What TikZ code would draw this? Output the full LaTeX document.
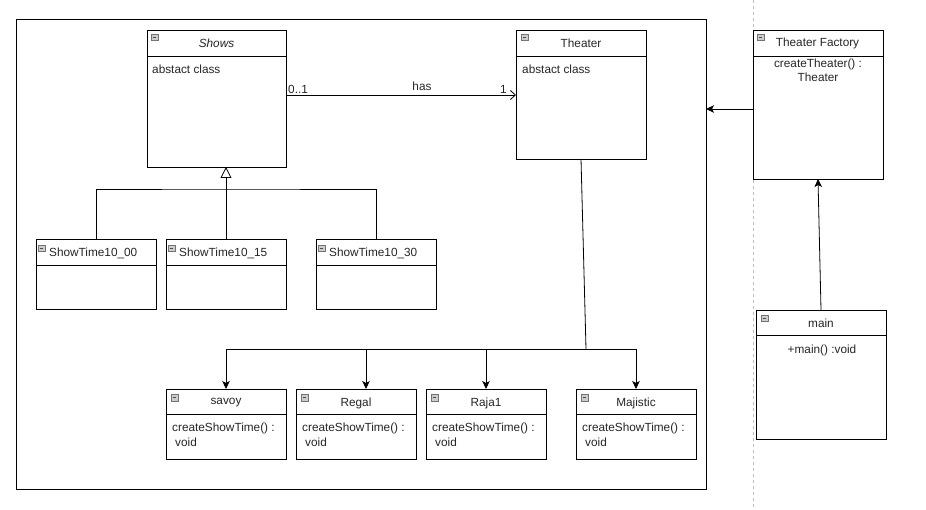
\documentclass[tikz,border=0pt]{standalone}
\usepackage{fontspec}
\setmainfont{Liberation Sans}
\usetikzlibrary{arrows.meta,calc}
\begin{document}
\begin{tikzpicture}[x=1pt,y=-1pt,
  box/.style={draw, line width=0.8pt, anchor=north west, inner sep=0pt, outer sep=0pt},
  lbl/.style={font=\fontsize{11.8}{14}\selectfont, inner sep=0pt, text=black!85},
  icon/.style={draw=black!55, fill=black!20, line width=0.4pt, minimum size=6.5pt, inner sep=0pt, anchor=north west,
    path picture={\draw[line width=0.6pt, black!70] ([xshift=1.3pt]path picture bounding box.west) -- ([xshift=-1.3pt]path picture bounding box.east);}},
  hline/.style={line width=0.8pt},
  conn/.style={line width=0.8pt},
  arr/.style={line width=0.8pt, -{Stealth[length=8pt,width=7.5pt,inset=2pt]}},
]
\useasboundingbox[fill=white] (0,0) rectangle (926,510);
% dashed separator
\draw[gray!50, dashed, line width=0.6pt] (753,0) -- (753,510);
% frame
\node[box, minimum width=690pt, minimum height=470pt] (frame) at (16,19) {};

% Shows
\node[box, fill=white, minimum width=139pt, minimum height=137pt] (shows) at (147,30) {};
\draw[hline] (147,56) -- (286,56);
\node[icon] (showsi) at (151,34) {};
\node[lbl, font=\fontsize{11.8}{14}\selectfont\itshape] (showst) at (216.5,43) {Shows};
\node[lbl, anchor=west] (showsb) at (152,69) {abstact class};

% Theater
\node[box, fill=white, minimum width=130pt, minimum height=129pt] (theater) at (516,30) {};
\draw[hline] (516,56) -- (646,56);
\node[icon] (theateri) at (521,34) {};
\node[lbl] (theatert) at (581,43) {Theater};
\node[lbl, anchor=west] (theaterb) at (522,69) {abstact class};

% Theater Factory
\node[box, fill=white, minimum width=130pt, minimum height=149pt] (factory) at (753,30) {};
\draw[hline] (753,56) -- (883,56);
\node[icon] (factoryi) at (757,34) {};
\node[lbl] (factoryt) at (817.5,43) {Theater Factory};
\node[lbl, align=center] (factoryb) at (818,70) {createTheater() :\\Theater};

% main
\node[box, fill=white, minimum width=130pt, minimum height=129pt] (main) at (756,310) {};
\draw[hline] (756,335) -- (886,335);
\node[icon] (maini) at (761,315) {};
\node[lbl] (maint) at (821,323) {main};
\node[lbl] (mainb) at (822,350) {+main() :void};

% ShowTime classes
\foreach \nm/\x/\t in {st00/36/ShowTime10\_00, st15/166/ShowTime10\_15, st30/316/ShowTime10\_30}{
  \node[box, fill=white, minimum width=120pt, minimum height=70pt] (\nm) at (\x,239) {};
  \draw[hline] (\x,265) -- ($(\x,265)+(120,0)$);
  \node[icon] (\nm i) at ($(\x,245)+(2,0)$) {};
  \node[lbl, anchor=west] (\nm t) at ($(\x,253)+(13,0)$) {\t};
}

% Theater subclasses
\foreach \nm/\x/\t in {savoy/166/savoy, regal/296/Regal, raja/426/Raja1, maj/576/Majistic}{
  \node[box, fill=white, minimum width=120pt, minimum height=70pt] (\nm) at (\x,389) {};
  \draw[hline] (\x,414) -- ($(\x,414)+(120,0)$);
  \node[icon] (\nm i) at ($(\x,394)+(5,0)$) {};
  \node[lbl] (\nm t) at ($(\x,403)+(60,0)$) {\t};
  \node[lbl, anchor=west] (\nm m) at ($(\x,428)+(6,0)$) {createShowTime() :};
  \node[lbl, anchor=west] (\nm v) at ($(\x,442)+(9,0)$) {void};
}

% has association
\draw[conn, -{Straight Barb[length=5pt,width=9pt]}] (shows.east |- 0,95) -- (theater.west |- 0,95);
\node[lbl, anchor=base west] (m01) at (288,94) {0..1};
\node[lbl] (hasl) at (422,86) {has};
\node[lbl, anchor=base east] (m1) at (507,94) {1};

% inheritance
\coordinate (inh) at (226,189);
\draw[conn] (st00.north) |- (inh) -| (st30.north);
\draw[conn, -{Triangle[open,fill=white,length=11pt,width=11pt]}] (st15.north) -- (st15.north |- shows.south);

% Theater to concrete theaters
\coordinate (bus) at (586,349);
\draw[conn] (theater.south) -- (bus);
\draw[arr] (bus) -| (savoy.north);
\draw[arr] (bus) -| ([xshift=10pt]regal.north);
\draw[arr] (bus) -| (raja.north);
\draw[arr] (bus) -| (maj.north);

% factory to frame
\coordinate (fa) at (753,109);
\draw[arr] (fa) -- (fa -| frame.east);
% main to factory
\draw[arr] (main.north) -- (factory.south);
\end{tikzpicture}
\end{document}
